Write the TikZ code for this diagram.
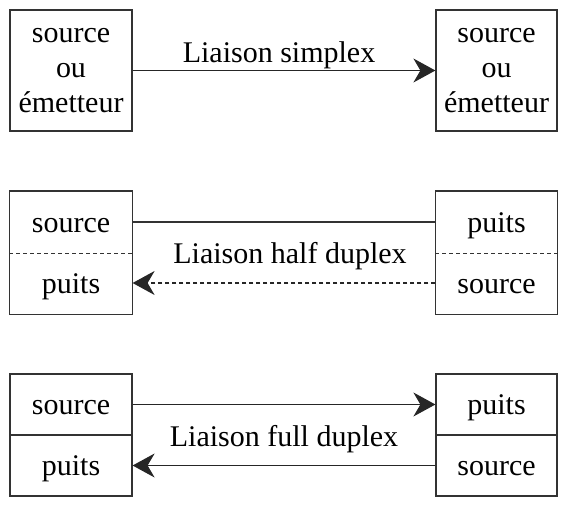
\documentclass[tikz,border=0pt]{standalone}
\usepackage{fontspec}
\setmainfont{Liberation Serif}
\usetikzlibrary{arrows.meta, positioning}

\begin{document}
\begin{tikzpicture}[
  x=1pt, y=-1pt,
  box/.style={rectangle, draw=black!80, line width=1.2pt, fill=white,
              minimum width=122pt, minimum height=121pt, align=center,
              inner sep=0pt, font=\fontsize{30}{35}\selectfont},
  cell/.style={rectangle, line width=1.2pt, minimum width=122pt,
               minimum height=61pt, inner sep=0pt, text height=20pt, text depth=0pt,
               font=\fontsize{30}{35}\selectfont},
  frame/.style={draw=black!80, line width=1.2pt},
  divider/.style={draw=black!80, line width=1pt, dash pattern=on 4pt off 3pt},
  link/.style={draw=black!80, line width=1.2pt},
  arr/.style={-{Stealth[length=22pt, width=24pt, inset=7pt]}, draw=black!85, line width=1.2pt},
  lbl/.style={font=\fontsize{30}{35}\selectfont, inner sep=1pt}
]
  \useasboundingbox (0,0) rectangle (568,506);

  % simplex
  \node[box] (srcL) at (71,70.5) {source\\ou\\émetteur};
  \node[box, minimum width=121pt] (srcR) at (496.5,70.5) {source\\ou\\émetteur};
  \draw[arr] (srcL) -- node[lbl, above, xshift=-5pt]{Liaison simplex} (srcR);

  % half duplex
  \node[cell] (hLs) at (71,222) {source};
  \node[cell] (hLp) at (71,283) {puits};
  \node[cell, minimum width=121pt] (hRp) at (496.5,222) {puits};
  \node[cell, minimum width=121pt] (hRs) at (496.5,283) {source};
  \draw[frame] (hLs.north west) rectangle (hLp.south east);
  \draw[frame] (hRp.north west) rectangle (hRs.south east);
  \draw[divider] (hLs.south west) -- (hLs.south east);
  \draw[divider] (hRp.south west) -- (hRp.south east);
  \draw[link] (hLs) -- (hRp);
  \draw[arr, dash pattern=on 4pt off 3pt] (hRs) -- (hLp);
  \path (hLs.south east) -- node[lbl, xshift=6pt, yshift=-3pt]{Liaison half duplex} (hRp.south west);

  % full duplex
  \node[cell, frame] (fLs) at (71,404.5) {source};
  \node[cell, frame] (fLp) at (71,465.5) {puits};
  \node[cell, frame, minimum width=121pt] (fRp) at (496.5,404.5) {puits};
  \node[cell, frame, minimum width=121pt] (fRs) at (496.5,465.5) {source};
  \draw[arr] (fLs) -- (fRp);
  \draw[arr] (fRs) -- (fLp);
  \path (fLs.south east) -- node[lbl, yshift=-4pt]{Liaison full duplex} (fRp.south west);
\end{tikzpicture}
\end{document}
